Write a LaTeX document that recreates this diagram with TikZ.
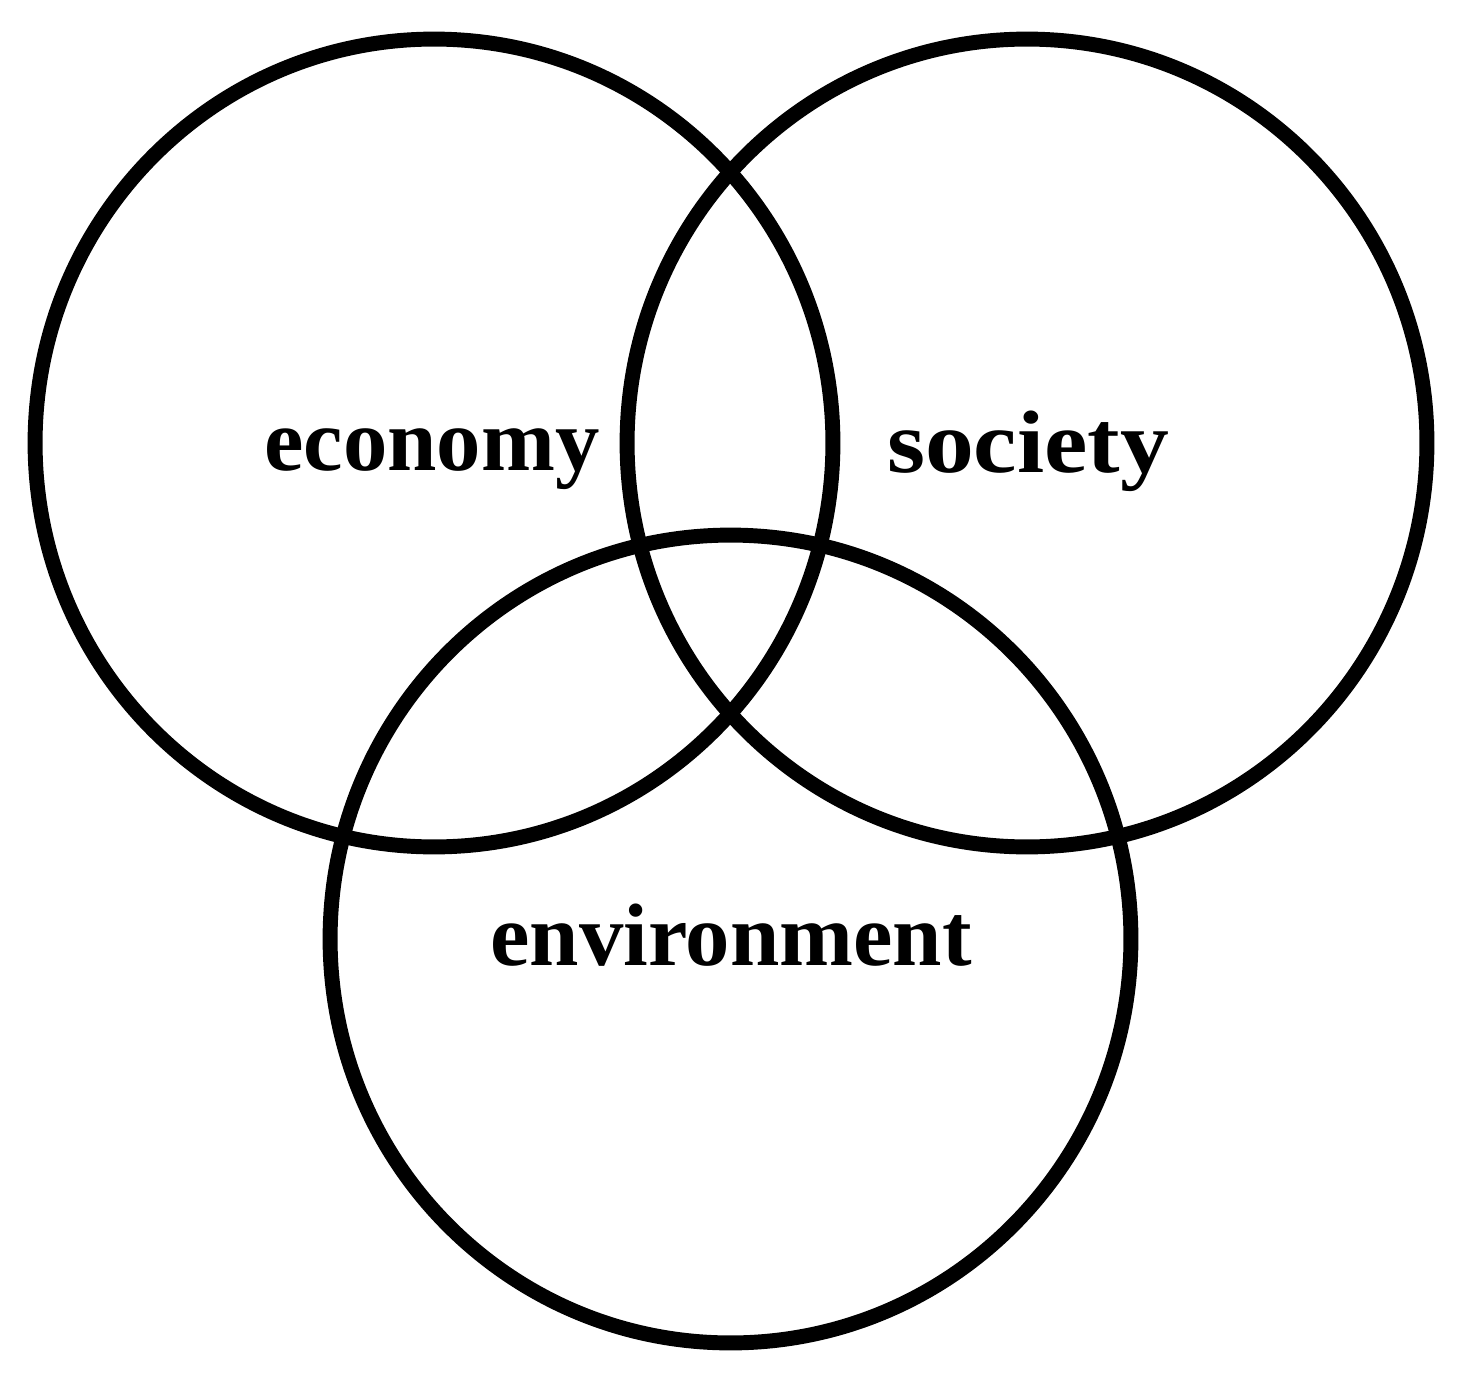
\documentclass[tikz,border=0pt]{standalone}
\usepackage{fontspec}
\usepackage{graphicx}
\setmainfont{Liberation Serif}
\usetikzlibrary{shapes.geometric}
\begin{document}
\begin{tikzpicture}[x=0.02cm,y=-0.02cm,
  ring/.style={draw=black, line width=8.5pt, ellipse, inner sep=0pt, outer sep=0pt},
  label/.style={anchor=base, inner sep=0pt, font=\bfseries\fontsize{50.5pt}{60pt}\selectfont}]
\useasboundingbox (0,0) rectangle (1462,1378);
\node[ring, minimum width=15.96cm, minimum height=16.16cm] (econ) at (434,443) {};
\node[ring, minimum width=16.0cm, minimum height=16.16cm] (soc) at (1027,443) {};
\node[ring, minimum width=16.02cm, minimum height=16.16cm] (env) at (730.5,939) {};
\node[label] (econT) at (432,470) {economy};
\node[label] (socT) at (1028,472) {\scalebox{1.1}[1]{society}};
\node[label] (envT) at (731,965) {environment};
\end{tikzpicture}
\end{document}
